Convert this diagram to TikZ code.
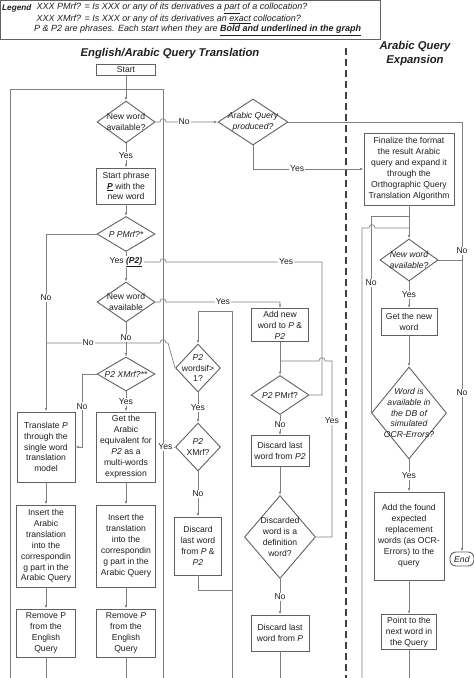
\documentclass[tikz,border=0pt]{standalone}
\usepackage{fontspec}
\setmainfont{Liberation Sans}
\usetikzlibrary{shapes.geometric,arrows.meta}

\definecolor{lnc}{gray}{0.5}
\definecolor{bxc}{gray}{0.38}
\definecolor{txc}{gray}{0.12}

\begin{document}
\begin{tikzpicture}[x=1pt,y=1pt,yscale=-1,xscale=1,
	box/.style={draw=bxc, line width=0.9pt, fill=white, align=center, inner sep=1pt, text=txc, font=\fontsize{8.6}{10.9}\selectfont},
	decide/.style={draw=bxc, line width=0.9pt, diamond, fill=white, inner sep=0pt},
	dtext/.style={align=center, inner sep=0pt, text=txc, font=\fontsize{8.6}{10.9}\selectfont},
	ditext/.style={dtext, font=\fontsize{8.6}{10.9}\selectfont\itshape},
	lbl/.style={fill=white, inner sep=1pt, text=txc, font=\fontsize{8.6}{10}\selectfont},
	conn/.style={draw=lnc, line width=0.7pt},
	arr/.style={conn, -{Latex[length=3.5pt,width=2.6pt]}},
	legtext/.style={anchor=west, inner sep=0pt, text=txc, font=\fontsize{9}{11}\selectfont\itshape}
	]
	\path[use as bounding box] (0,0) rectangle (474,678);
	\coordinate (bot) at (0,678);

	%Legend
	\draw[draw=bxc, line width=0.9pt] (0.5,0.5) rectangle (380,39);
	\node[legtext, font=\fontsize{8.2}{11}\selectfont\itshape] (leg) at (2,8.5) {\textbf{Legend}};
	\node[legtext] (leg1) at (36.5,8.5) {XXX PMrf? = Is XXX or any of its derivatives a \underline{part} of a collocation?};
	\node[legtext] (leg2) at (36.5,19.5) {XXX XMrf? = Is XXX or any of its derivatives an \underline{exact} collocation?};
	\node[legtext] (leg3) at (34,30.5) {P \& P2 are phrases. Each start when they are \textbf{\underline{Bold and underlined in the graph}}};

	% Titles
	\node[text=txc, font=\fontsize{11.3}{13}\selectfont\bfseries\itshape] (ttrans) at (170,54) {English/Arabic Query Translation};
	\node[align=center, text=txc, font=\fontsize{11.3}{14}\selectfont\bfseries\itshape] (texp) at (415,54) {Arabic Query\\Expansion};
	\draw[draw=black!75, line width=1.3pt, dash pattern=on 7pt off 4pt] (346,48) -- (346,678);

	% Loop frame
	\draw[conn] (10,678) -- (10,89) -- (163,89) -- (163,678);

	%Translation: first column
	\node[box, minimum width=59, minimum height=11, inner sep=0pt] (start) at (126,70) {Start};
	\node[decide, minimum width=58, minimum height=42] (avail) at (126,122) {};
	\node[dtext] (availt) at (avail) {New word\\available?};
	\node[box, minimum width=59, minimum height=36] (phrase) at (126,186) {Start phrase\\\underline{\textbf{\textit{P}}} with the\\new word};
	\node[decide, minimum width=58, minimum height=35] (pmrf) at (126,234) {};
	\node[ditext] (pmrft) at (pmrf) {P PMrf?*};
	\node[decide, minimum width=58, minimum height=40] (avail2) at (126,302) {};
	\node[dtext] (avail2t) at (avail2) {New word\\available};
	\node[decide, minimum width=58, minimum height=34] (xmrf) at (126,374) {};
	\node[ditext] (xmrft) at (xmrf) {P2 XMrf?**};
	\node[box, minimum width=58, minimum height=70] (transl) at (46,447) {Translate \textit{P}\\through the\\single word\\translation\\model};
	\node[box, minimum width=59, minimum height=70] (equiv) at (126,447) {Get the\\Arabic\\equivalent for\\\textit{P2} as a\\multi-words\\expression};
	\node[box, minimum width=59, minimum height=82] (ins1) at (46,546) {Insert the\\Arabic\\translation\\into the\\correspondin\\g part in the\\Arabic Query};
	\node[box, minimum width=59, minimum height=82] (ins2) at (126,546) {Insert the\\translation\\into the\\correspondin\\g part in the\\Arabic Query};
	\node[box, minimum width=59, minimum height=48] (rem1) at (46,633) {Remove P\\from the\\English\\Query};
	\node[box, minimum width=59, minimum height=48] (rem2) at (126,633) {Remove \textit{P}\\from the\\English\\Query};

	%Translation: P2 columns
	\node[decide, minimum width=45, minimum height=48] (words) at (198,368) {};
	\node[dtext] (wordst) at (words) {\textit{P2}\\wordsif>\\1?};
	\node[decide, minimum width=45, minimum height=48] (xmrf2) at (198,447) {};
	\node[dtext] (xmrf2t) at (xmrf2) {\textit{P2}\\XMrf?};
	\node[box, minimum width=47, minimum height=58] (discpp) at (198,546) {Discard\\last word\\from \textit{P} \&\\\textit{P2}};
	\node[box, minimum width=57, minimum height=33] (addw) at (280,325) {Add new\\word to \textit{P} \&\\\textit{P2}};
	\node[decide, minimum width=58, minimum height=39] (pmrf2) at (280,395) {};
	\node[dtext] (pmrf2t) at (pmrf2) {\textit{P2} PMrf?};
	\node[box, minimum width=58, minimum height=31] (discp2) at (280,451) {Discard last\\word from \textit{P2}};
	\node[decide, minimum width=71, minimum height=83] (defw) at (280,537) {};
	\node[dtext] (defwt) at (defw) {Discarded\\word is a\\definition\\word?};
	\node[box, minimum width=58, minimum height=36] (discp) at (280,633) {Discard last\\word from \textit{P}};

	%Expansion
	\node[decide, minimum width=70, minimum height=46] (prod) at (253,122) {};
	\node[ditext] (prodt) at (prod) {Arabic Query\\produced?};
	\node[box, minimum width=90, minimum height=72] (final) at (409,169) {Finalize the format\\the result Arabic\\query and expand it\\through the\\Orthographic Query\\Translation Algorithm};
	\node[decide, minimum width=58, minimum height=42] (avail3) at (409,260) {};
	\node[ditext] (avail3t) at (avail3) {New word\\available?};
	\node[box, minimum width=56, minimum height=27] (getw) at (409,322) {Get the new\\word};
	\node[decide, minimum width=75, minimum height=92] (ocr) at (409,413) {};
	\node[ditext] (ocrt) at (ocr) {Word is\\available in\\the DB of\\simulated\\OCR-Errors?};
	\node[box, minimum width=70, minimum height=88] (addr) at (409,536) {Add the found\\expected\\replacement\\words (as OCR-\\Errors) to the\\query};
	\node[box, minimum width=55, minimum height=35] (nextw) at (409,632) {Point to the\\next word in\\the Query};
	\node[box, rounded corners=6pt, minimum width=24, minimum height=14, inner sep=0pt] (stop) at (462,559) {\textit{End}};

	\coordinate (c9) at (82,447);
	\coordinate (c8) at (332,361);
	\coordinate (c4) at (409,216);

	%Connectors: first column
	\draw[arr] (start.south) -- (avail.north);
	\draw[arr] (avail.east) -- (160,122) .. controls (160,117.5) and (166,117.5) .. (166,122) -- node[lbl,pos=0.35] (n1) {No} (prod.west);
	\draw[arr] (avail.south) -- node[lbl] (y1) {Yes} (phrase.north);
	\draw[arr] (phrase.south) -- (pmrf.north);
	\draw[arr] (pmrf.south) -- node[lbl,pos=0.34] (yp2) {Yes \underline{\textbf{\textit{(P2)}}}} (avail2.north);
	\draw[arr] (pmrf.west) -| node[lbl,pos=0.68] (n2) {No} (transl.north);
	\draw[arr] (avail2.south) -- node[lbl,pos=0.45] (n3) {No} (xmrf.north);
	\draw[arr] (xmrf.south) -- node[lbl] (y2) {Yes} (equiv.north);
	\draw[arr] (xmrf.west) -| node[lbl,pos=0.72] (n4) {No} (c9) -- (transl.east);
	\draw[arr] (transl.south) -- (ins1.north);
	\draw[arr] (ins1.south) -- (rem1.north);
	\draw[conn] (rem1.south) -- (rem1.south |- bot);
	\draw[arr] (equiv.south) -- (ins2.north);
	\draw[arr] (ins2.south) -- (rem2.north);
	\draw[conn] (rem2.south) -- (rem2.south |- bot);

	%Connectors: P2 columns
	\draw[conn] (words.west) -- (168,343) -- (166,343) .. controls (166,338.5) and (160,338.5) .. (160,343) -- node[lbl,pos=0.63] (n5) {No} (transl.north |- 0,343);
	\draw[arr] (words.south) -- node[lbl] (y3) {Yes} (xmrf2.north);
	\draw[arr] (xmrf2.west) -- node[lbl] (y4) {Yes} (equiv.east);
	\draw[arr] (xmrf2.south) -- node[lbl] (n6) {No} (discpp.north);
	\draw[conn] (discpp.south) |- (232,590);
	\draw[arr] (232,678) -- (232,311) -| (words.north);
	\draw[arr] (avail2.east) -- (160,302) .. controls (160,297.5) and (166,297.5) .. (166,302) -| node[lbl,pos=0.25] (y5) {Yes} (addw.north);
	\draw[arr] (addw.south) -- (pmrf2.north);
	\draw[conn] (pmrf2.east) -| (322,262) -- node[lbl,pos=0.23] (y6) {Yes} (166,262) .. controls (166,257.5) and (160,257.5) .. (160,262) -- (yp2.east);
	\draw[arr] (pmrf2.south) -- node[lbl] (n7) {No} (discp2.north);
	\draw[arr] (discp2.south) -- (defw.north);
	\draw[conn] (defw.east) -| node[lbl,pos=0.83] (y7) {Yes} (c8) -- (325,361) .. controls (325,356.5) and (319,356.5) .. (319,361) -- (addw.south |- c8);
	\draw[arr] (defw.south) -- node[lbl] (n8) {No} (discp.north);
	\draw[conn] (discp.south) -- (discp.south |- bot);

	%Connectors: expansion
	\draw[arr] (prod.east) -| node[lbl,pos=0.65] (n9) {No} node[lbl,pos=0.815] (n10) {No} (stop.north);
	\draw[arr] (prod.south) |- node[lbl,pos=0.7] (y8) {Yes} (final.west);
	\draw[arr] (final.south) -- (avail3.north);
	\draw[conn] (avail3.east) -- (avail3.east -| stop.north);
	\draw[arr] (avail3.south) -- node[lbl] (y9) {Yes} (getw.north);
	\draw[arr] (getw.south) -- (ocr.north);
	\draw[conn] (ocr.west) |- node[lbl,pos=0.33] (n11) {No} (c4);
	\draw[conn] (362,678) -- (362,228) -- (369,228) .. controls (369,223.5) and (375,223.5) .. (375,228) -- (final.south |- 0,228);
	\draw[arr] (ocr.south) -- node[lbl] (y10) {Yes} (addr.north);
	\draw[arr] (addr.south) -- (nextw.north);
	\draw[conn] (nextw.south) -- (nextw.south |- bot);

\end{tikzpicture}
\end{document}
